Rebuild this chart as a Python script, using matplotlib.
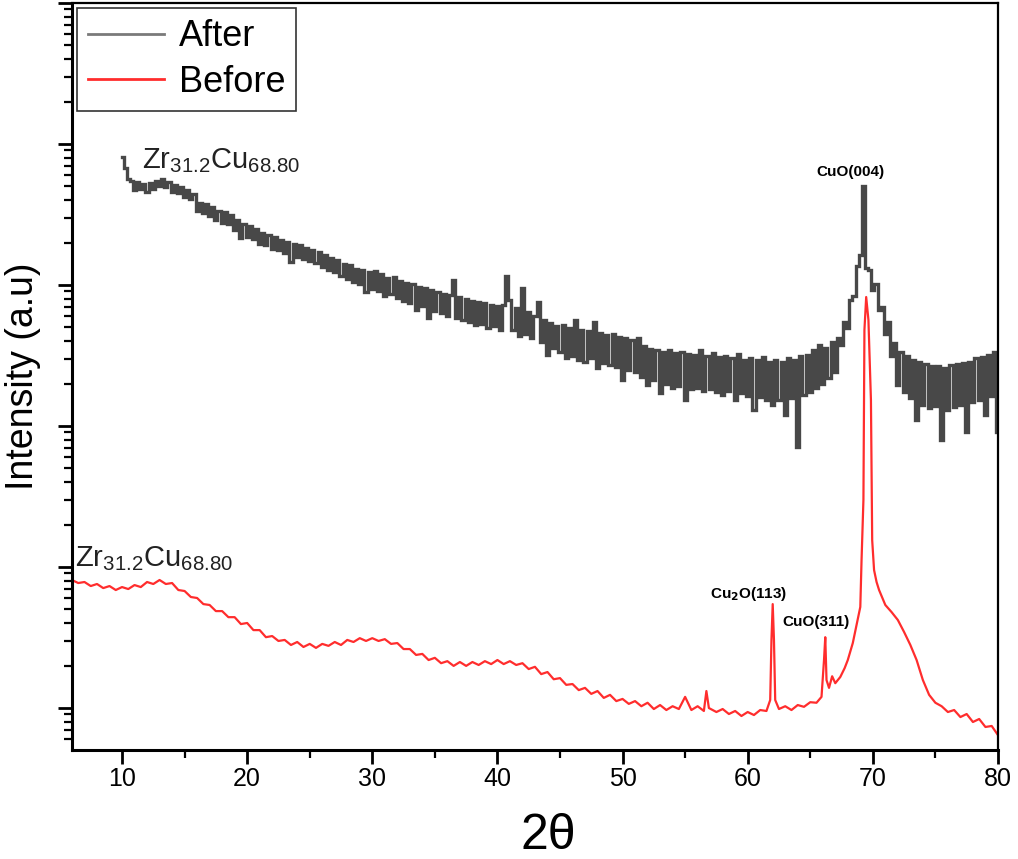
import numpy as np
import matplotlib
matplotlib.use("Agg")
import matplotlib.pyplot as plt
from matplotlib.ticker import LogLocator, MultipleLocator, NullFormatter

plt.rcParams['font.family'] = ['Liberation Sans', 'DejaVu Sans']
plt.rcParams['mathtext.fontset'] = 'custom'
plt.rcParams['mathtext.rm'] = 'Liberation Sans'

# XRD taraması: "After" örneği 10-80 derece, 0.25 derece adımla
after_start, after_step = 10.0, 0.25
after_counts = [
    80900, 67600, 56500, 54700,   # 10
    47200, 53800, 48000, 52100,   # 11
    45700, 52900, 48000, 54700,   # 12
    50400, 56500, 49600, 53800,   # 13
    45700, 51200, 44900, 49600,   # 14
    42100, 47200, 40700, 44200,   # 15
    33500, 38100, 32400, 37500,   # 16
    30900, 35700, 28900, 33500,   # 17
    27500, 32900, 27100, 31400,   # 18
    24600, 28900, 21500, 27100,   # 19
    21900, 26200, 21200, 25000,   # 20
    19500, 23400, 19200, 22600,   # 21
    18000, 21900, 17700, 20900,   # 22
    16900, 20200, 14600, 19500,   # 23
    15800, 19200, 15300, 18300,   # 24
    14800, 17700, 14300, 17100,   # 25
    13400, 16300, 12800, 15500,   # 26
    12400, 15000, 11600, 14100,   # 27
    11000, 13900, 10500, 13000,   # 28
    10200, 12800, 8920, 12400,    # 29
    9370, 12600, 9070, 12000,     # 30
    8360, 11200, 8630, 11400,     # 31
    8090, 10700, 7700, 10300,     # 32
    7450, 10200, 6650, 9680,      # 33
    7100, 9520, 5830, 9220,       # 34
    6540, 8920, 6330, 8630,       # 35
    6030, 8490, 10850, 5830,      # 36
    8220, 5650, 7960, 5470,       # 37
    7700, 5200, 7580, 5290,       # 38
    7450, 4950, 7220, 5120,       # 39
    7100, 4800, 7220, 11600,      # 40
    7830, 4800, 6870, 4350,       # 41
    9520, 4490, 6440, 4210,       # 42
    6030, 7580, 3940, 5650,       # 43
    3190, 5380, 3570, 5120,       # 44
    3350, 5200, 3030, 4950,       # 45
    3140, 5650, 2940, 4800,       # 46
    2840, 4720, 3030, 5470,       # 47
    2580, 4570, 2800, 4420,       # 48
    2710, 4490, 2620, 4280,       # 49
    2120, 4210, 2500, 4070,       # 50
    2420, 4210, 2230, 3690,       # 51
    1950, 3520, 2120, 3460,       # 52
    1710, 3350, 1990, 3460,       # 53
    1860, 3290, 1920, 3350,       # 54
    1530, 3240, 1830, 3190,       # 55
    1860, 3460, 1770, 3140,       # 56
    1830, 3290, 1740, 3090,       # 57
    1660, 3140, 1770, 3030,       # 58
    1530, 3240, 1710, 2940,       # 59
    1630, 3030, 1300, 2940,       # 60
    1610, 3090, 1530, 2840,       # 61
    1410, 2940, 1530, 2840,       # 62
    1200, 3030, 1580, 2940,       # 63
    710, 3140, 1660, 3190,        # 64
    1740, 3460, 1860, 3750,       # 65
    1990, 3570, 2190, 3940,       # 66
    2420, 4210, 3750, 5470,       # 67
    4950, 7830, 8360, 13600,      # 68
    16300, 50400, 13200, 12800,   # 69
    9220, 10200, 6650, 6980,      # 70
    4490, 5470, 3140, 3880,       # 71
    1950, 3350, 1740, 3140,       # 72
    1580, 2940, 1100, 2840,       # 73
    1410, 2750, 1340, 2660,       # 74
    1390, 2660, 796, 2580,        # 75
    1300, 2710, 1360, 2750,       # 76
    1410, 2800, 907, 2840,        # 77
    1480, 3030, 1530, 3090,       # 78
    1200, 3190, 1630, 3350,       # 79
    907,                          # 80
]
after_x = after_start + after_step * np.arange(len(after_counts))

# "Before" örneği (pik bölgelerinde daha sık nokta)
before_x = [
    6.0, 6.5, 7.0, 7.5, 8.0, 8.5, 9.0, 9.5, 10.0, 10.5, 11.0, 11.5, 12.0, 12.5,
    13.0, 13.5, 14.0, 14.5, 15.0, 15.5, 16.0, 16.5, 17.0, 17.5, 18.0, 18.5,
    19.0, 19.5, 20.0, 20.5, 21.0, 21.5, 22.0, 22.5, 23.0, 23.5, 24.0, 24.5,
    25.0, 25.5, 26.0, 26.5, 27.0, 27.5, 28.0, 28.5, 29.0, 29.5, 30.0, 30.5,
    31.0, 31.5, 32.0, 32.5, 33.0, 33.5, 34.0, 34.5, 35.0, 35.5, 36.0, 36.5,
    37.0, 37.5, 38.0, 38.5, 39.0, 39.5, 40.0, 40.5, 41.0, 41.5, 42.0, 42.5,
    43.0, 43.5, 44.0, 44.5, 45.0, 45.5, 46.0, 46.5, 47.0, 47.5, 48.0, 48.5,
    49.0, 49.5, 50.0, 50.5, 51.0, 51.5, 52.0, 52.5, 53.0, 53.5, 54.0, 54.5,
    55.0, 55.5, 56.0, 56.5, 56.7, 56.9, 57.5, 58.0, 58.5, 59.0, 59.5, 60.0,
    60.5, 61.0, 61.5, 61.8, 61.9, 62.0, 62.1, 62.2, 62.5, 63.0, 63.5, 64.0,
    64.5, 65.0, 65.5, 65.9, 66.1, 66.2, 66.3, 66.5, 66.75, 67.0, 67.4, 67.75,
    68.0, 68.4, 68.7, 69.0, 69.1, 69.25, 69.33, 69.47, 69.65, 69.85, 69.95,
    70.1, 70.3, 70.5, 71.0, 71.5, 72.0, 72.5, 73.0, 73.5, 74.0, 74.5, 75.0,
    75.5, 76.0, 76.5, 77.0, 77.5, 78.0, 78.5, 79.0, 79.5, 80.0,
]
before_counts = [
    80.9, 77.0, 78.3, 73.3, 75.8, 70.9, 73.3, 68.7, 72.1, 69.8, 74.5, 72.1, 78.3, 75.8,
    80.9, 75.8, 77.0, 68.7, 67.6, 61.3, 60.3, 54.6, 53.8, 48.7, 48.7, 44.1,
    44.1, 39.4, 40.1, 35.7, 35.7, 31.8, 32.4, 29.9, 30.4, 28.0, 29.4, 27.1,
    28.5, 26.7, 28.5, 27.6, 29.4, 28.0, 30.4, 29.4, 31.3, 29.9, 31.3, 29.9,
    30.8, 28.5, 28.9, 26.2, 26.2, 23.8, 24.2, 21.9, 22.7, 20.8, 21.5, 19.9,
    21.2, 19.9, 21.2, 20.2, 21.5, 20.5, 21.9, 20.5, 21.5, 20.2, 20.8, 18.9,
    19.6, 17.4, 18.0, 16.0, 16.3, 14.6, 14.8, 13.4, 13.9, 12.6, 13.2, 11.8,
    12.4, 11.2, 11.6, 10.7, 11.2, 10.3, 10.9, 9.84, 10.5, 9.68, 10.3, 9.84,
    12.0, 9.68, 10.3, 9.53, 13.2, 10.0, 9.37, 9.84, 9.07, 9.53, 8.78, 9.37,
    8.92, 9.68, 9.53, 11.4, 30.4, 54.6, 30.4, 11.4, 9.84, 10.3, 9.68, 10.5,
    10.2, 11.0, 10.9, 12.0, 21.9, 31.8, 15.8, 13.9, 16.8, 15.0, 16.6, 19.2,
    21.9, 28.9, 38.8, 52.1, 112, 299, 4800, 8220, 5650, 1530, 155,
    95.2, 78.3, 68.7, 53.8, 47.9, 42.1, 34.6, 28.0, 21.9, 15.8, 12.4, 10.9,
    10.3, 9.37, 9.68, 8.63, 9.07, 7.96, 8.36, 7.34, 7.46, 6.43,
]

fig = plt.figure(figsize=(10.18, 8.59), dpi=100)
ax = fig.add_axes([0.0707, 0.1269, 0.9096, 0.8696])

# gürültülü tarama: kalın basamaklı çizgi dolu bir bant gibi görünüyor
ax.plot(after_x, after_counts, color='#484848', lw=2.4, drawstyle='steps-mid',
        solid_joinstyle='miter', label='After')
ax.plot(before_x, before_counts, color='#ff2d2d', lw=1.6, label='Before')

ax.set_yscale('log')
ax.set_xlim(6, 80)
ax.set_ylim(5.04, 1e6)

# eksen işaretleri
ax.xaxis.set_major_locator(MultipleLocator(10))
ax.xaxis.set_minor_locator(MultipleLocator(5))
ax.yaxis.set_major_locator(LogLocator(base=10, numticks=20))
ax.yaxis.set_minor_locator(LogLocator(base=10, subs=np.arange(2, 10), numticks=100))
ax.yaxis.set_minor_formatter(NullFormatter())
ax.tick_params(axis='y', which='both', labelleft=False)
ax.tick_params(axis='both', which='major', direction='out', length=10, width=2)
ax.tick_params(axis='both', which='minor', direction='out', length=6, width=1.6)
ax.tick_params(axis='x', which='major', pad=2, labelsize=18)
for sp in ['left', 'bottom']:
    ax.spines[sp].set_linewidth(2.2)
for sp in ['top', 'right']:
    ax.spines[sp].set_linewidth(1.6)

ax.set_xlabel('2θ', fontsize=36)
ax.xaxis.set_label_coords(0.514, -0.085)
ax.set_ylabel('Intensity (a.u)', fontsize=27, labelpad=12)

# etiketler
ax.text(11.6, 67600, r'Zr$_{\mathregular{31.2}}$Cu$_{\mathregular{68.80}}$', fontsize=21,
        color='#222222', va='baseline')
ax.text(6.25, 101, r'Zr$_{\mathregular{31.2}}$Cu$_{\mathregular{68.80}}$', fontsize=21,
        color='#222222', va='baseline')
ax.text(68.2, 59300, 'CuO(004)', fontsize=11, fontweight='bold', ha='center', va='baseline')
ax.text(57.0, 60.3, r'Cu$_{\mathbf{2}}$O(113)', fontsize=11, fontweight='bold', va='baseline')
ax.text(62.75, 38.1, 'CuO(311)', fontsize=11, fontweight='bold', va='baseline')

leg = ax.legend(loc='upper left', fontsize=26, handlelength=2.1, frameon=True, fancybox=False,
                borderaxespad=0.15, borderpad=0.3, labelspacing=0.3, handletextpad=0.4)
leg.get_frame().set_edgecolor('black')
leg.get_frame().set_linewidth(1.2)
leg.get_lines()[0].set_color('#7a7a7a')
leg.get_lines()[0].set_linewidth(2)
leg.get_lines()[1].set_linewidth(2)

plt.savefig('out.png', dpi=100)
